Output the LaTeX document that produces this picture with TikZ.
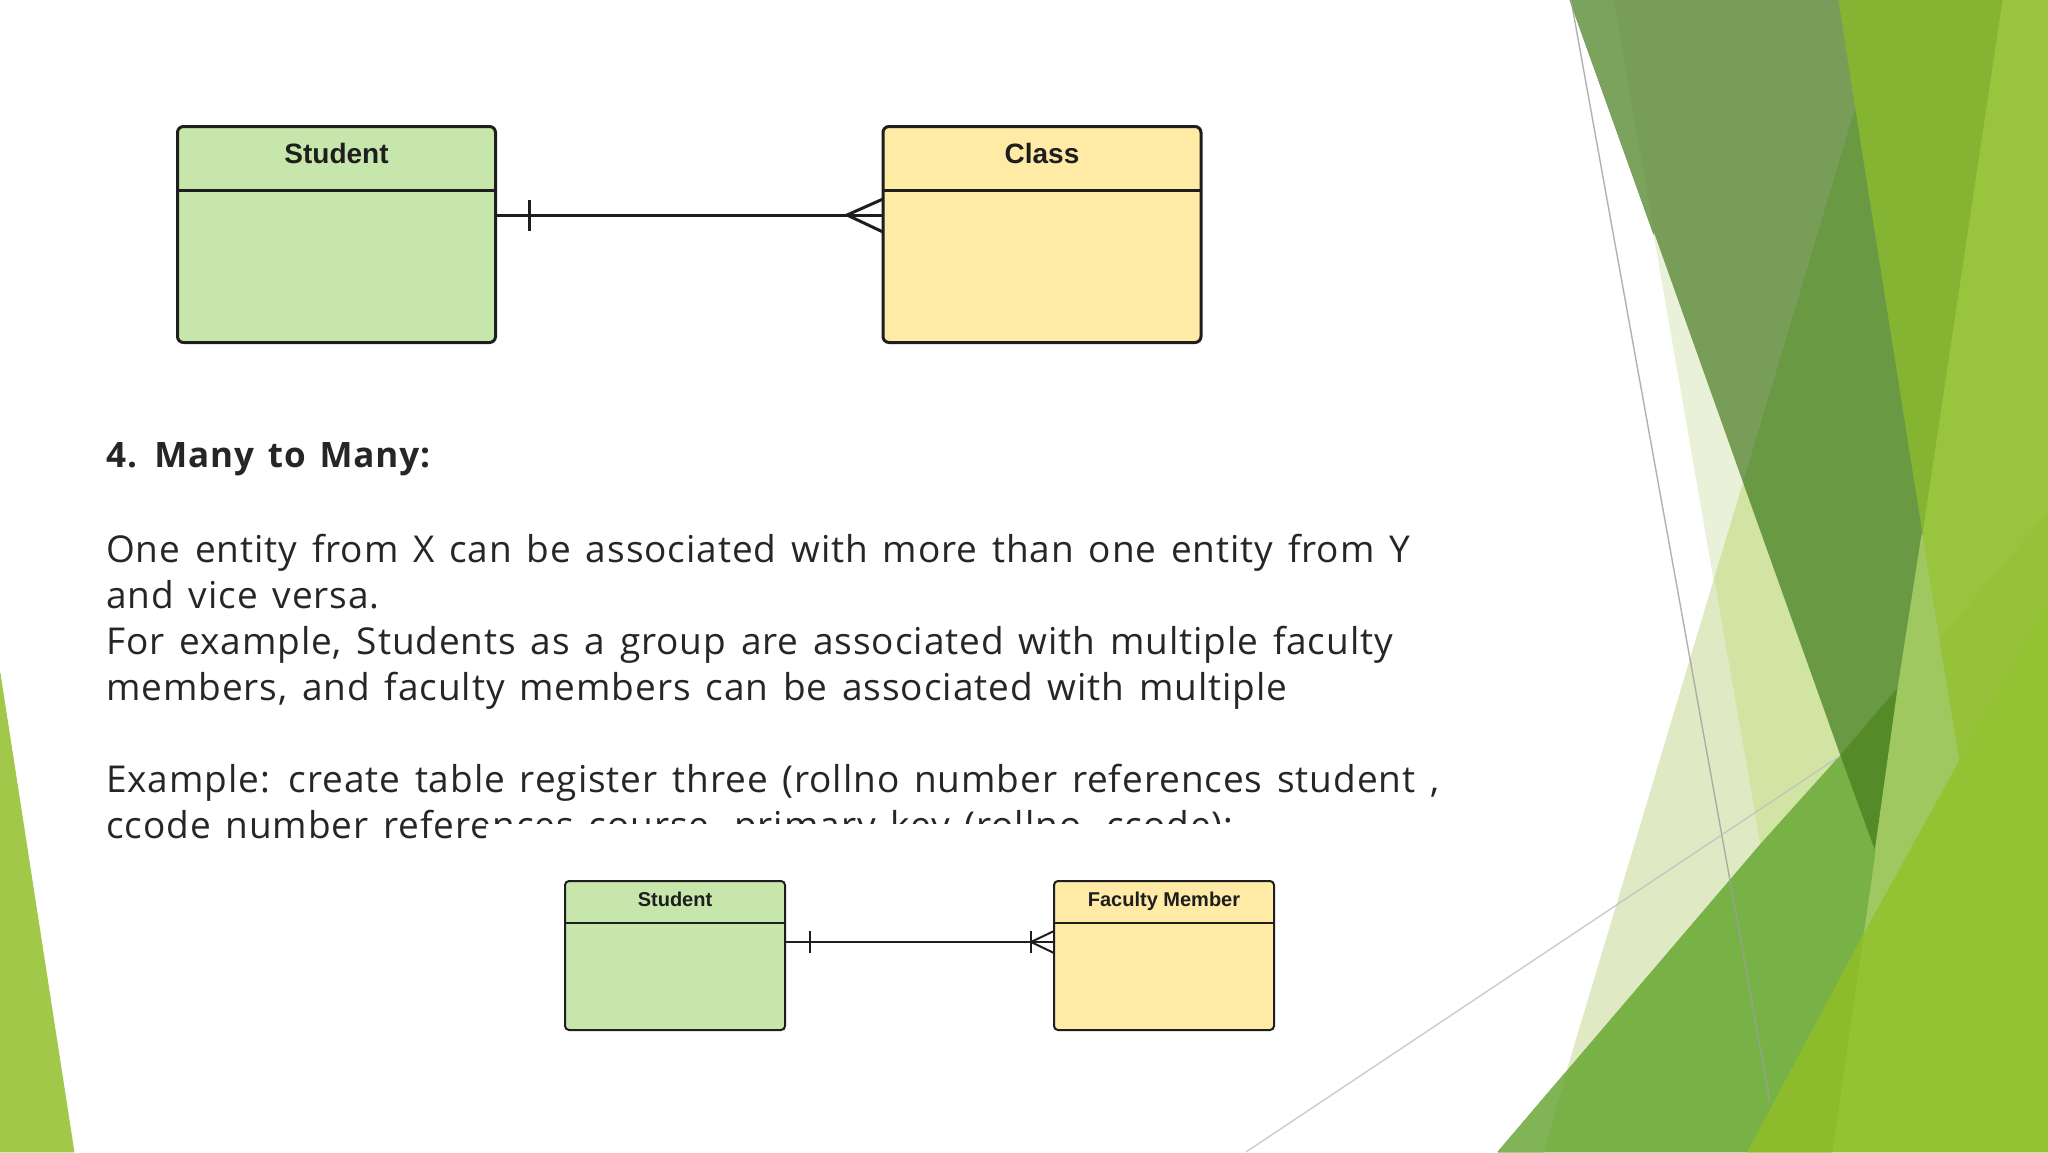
\documentclass[tikz,border=0pt]{standalone}
\usepackage{fontspec}
\setmainfont{Open Sans}[WordSpace=1.4,LetterSpace=2.5]
\newfontfamily\erfont{Liberation Sans}
\usetikzlibrary{calc}
\definecolor{txt}{HTML}{262626}
\definecolor{erline}{HTML}{1E1E1E}
\definecolor{entgreen}{HTML}{C6E6AC}
\definecolor{entyellow}{HTML}{FFEAA6}
\definecolor{cMuted}{HTML}{789D58}
\definecolor{cMutedL}{HTML}{7BA35D}
\definecolor{cDark}{HTML}{6A9944}
\definecolor{cVDark}{HTML}{548B28}
\definecolor{cBright}{HTML}{84B432}
\definecolor{cBand}{HTML}{98C43E}
\definecolor{cBandLow}{HTML}{95C238}
\definecolor{cWedge}{HTML}{A0C860}
\definecolor{cY}{HTML}{93C232}
\definecolor{cYL}{HTML}{8CBC2C}
\definecolor{cM}{HTML}{78B246}
\definecolor{cML}{HTML}{80B456}
\definecolor{cT}{HTML}{DFEAC5}
\definecolor{cTP}{HTML}{D2E4A3}
\definecolor{cP}{HTML}{E9F2D9}
\definecolor{cLeft}{HTML}{A2C84A}
\tikzset{
  facet/.style={fill=#1, draw=#1, line width=0.8pt, line join=round},
  ent/.style={draw=erline, line width=3pt, rounded corners=6pt, inner sep=0pt, outer sep=0pt},
  entsmall/.style={draw=erline, line width=2pt, rounded corners=4pt, inner sep=0pt, outer sep=0pt},
  conn/.style={draw=erline, line width=3pt},
  connsmall/.style={draw=erline, line width=2pt},
  bodytext/.style={font=\fontsize{37}{46}\selectfont, text=txt, inner sep=0pt, anchor=base west},
  headtext/.style={font=\bfseries\fontsize{35}{46}\selectfont, text=txt, inner sep=0pt, anchor=base west},
  ertitle/.style={font=\erfont\bfseries\fontsize{28}{32}\selectfont, text=erline, inner sep=0pt, anchor=base},
  ertitlesmall/.style={font=\erfont\bfseries\fontsize{20}{24}\selectfont, text=erline, inner sep=0pt, anchor=base},
  guide/.style={line width=1.4pt}
}
\begin{document}
\begin{tikzpicture}[x=1pt,y=-1pt]
\useasboundingbox (0,0) rectangle (2048,1152);
\fill[white] (0,0) rectangle (2048,1152);

% ---- background facets (right side) ----
\fill[facet=cBand] (2002,0) -- (2048,0) -- (2048,514) -- (1939,640) -- (1922,534) -- cycle;
\fill[facet=cBandLow] (1939,640) -- (2048,514) -- (2048,602) -- (1959,762) -- cycle;
\fill[facet=cBright] (1838,0) -- (2002,0) -- (1922,534) -- cycle;
\fill[facet=cMuted] (1570,0) -- (1838,0) -- (1855,110) -- (1743,484) -- cycle;
\fill[facet=cMutedL] (1570,0) -- (1613,0) -- (1654,234) -- cycle;
\fill[facet=cDark] (1855,110) -- (1922,534) -- (1898,688) -- (1840,756) -- (1743,484) -- cycle;
\fill[facet=cVDark] (1840,756) -- (1898,688) -- (1875,852) -- cycle;
\fill[facet=cWedge] (1922,534) -- (1939,640) -- (1959,762) -- (1863,936) -- (1875,852) -- (1898,688) -- cycle;
\fill[facet=cP] (1654,234) -- (1743,484) -- (1714,580) -- cycle;
\fill[facet=cTP] (1743,484) -- (1714,580) -- (1760,845) -- (1840,756) -- cycle;
\fill[facet=cT] (1714,580) -- (1567,1071) -- (1760,845) -- cycle;
\fill[facet=cM] (1498,1152) -- (1567,1071) -- (1760,845) -- (1840,756) -- (1875,852) -- (1863,936) -- (1748,1152) -- cycle;
\fill[facet=cML] (1498,1152) -- (1567,1071) -- (1543,1152) -- cycle;
\fill[facet=cY] (1748,1152) -- (1863,936) -- (1959,762) -- (2048,602) -- (2048,1152) -- cycle;
\fill[facet=cYL] (1748,1152) -- (1863,936) -- (1832,1152) -- cycle;
\draw[guide, draw=black!38, opacity=0.8] (1571,0) -- (1770,1102);
\draw[guide, draw=black!25, opacity=0.8] (1246,1152) -- (1840,756);
% left facet
\fill[facet=cLeft] (0,673) -- (74,1152) -- (0,1152) -- cycle;

% ---- top ER diagram ----
\node[ent, fill=entgreen, minimum width=318pt, minimum height=216pt, anchor=north west] (s1) at (177.5,126.5) {};
\node[ent, fill=entyellow, minimum width=318pt, minimum height=216pt, anchor=north west] (c1) at (883,126.5) {};
\draw[line width=3pt, draw=erline] (s1.west |- 0,190) -- (s1.east |- 0,190);
\draw[line width=3pt, draw=erline] (c1.west |- 0,190) -- (c1.east |- 0,190);
\node[ertitle] (s1t) at (s1.north |- 0,163) {Student};
\node[ertitle] (c1t) at (c1.north |- 0,163) {Class};
\coordinate (j1) at (s1.east |- 0,215);
\coordinate (j2) at (c1.west |- 0,215);
\draw[conn] (j1) -- (j2);
\draw[conn] ($(j1)+(34,-15)$) -- ($(j1)+(34,16)$);
\draw[conn, line join=miter] ($(j2)+(0,-16)$) -- ($(j2)+(-36,0)$) -- ($(j2)+(0,17)$);

% ---- text ----
\node[headtext] (h) at (106,467) {4. Many to Many:};
\node[bodytext] (l1) at (106,562) {One entity from X can be associated with more than one entity from Y};
\node[bodytext] (l2) at (106,608) {and vice versa.};
\node[bodytext] (l3) at (106,654) {For example, Students as a group are associated with multiple faculty};
\node[bodytext] (l4) at (106,700) {members, and faculty members can be associated with multiple};
\node[bodytext] (l5) at (106,792) {Example: create table register three (rollno number references student ,};
\node[bodytext] (l6) at (106,838) {ccode number references course, primary key (rollno, ccode);};

% white background of the lower diagram image
\fill[white] (486,824) rectangle (1292,1046);

% ---- lower ER diagram ----
\node[entsmall, fill=entgreen, minimum width=220pt, minimum height=149pt, anchor=north west] (s2) at (565,881) {};
\node[entsmall, fill=entyellow, minimum width=220pt, minimum height=149pt, anchor=north west] (f2) at (1054,881) {};
\draw[line width=2pt, draw=erline] (s2.west |- 0,923) -- (s2.east |- 0,923);
\draw[line width=2pt, draw=erline] (f2.west |- 0,923) -- (f2.east |- 0,923);
\node[ertitlesmall] (s2t) at (s2.north |- 0,906) {Student};
\node[ertitlesmall] (f2t) at (f2.north |- 0,906) {Faculty Member};
\coordinate (k1) at (s2.east |- 0,942);
\coordinate (k2) at (f2.west |- 0,942);
\draw[connsmall] (k1) -- (k2);
\draw[connsmall] ($(k1)+(25,-11)$) -- ($(k1)+(25,11)$);
\draw[connsmall] ($(k2)+(-23,-11)$) -- ($(k2)+(-23,11)$);
\draw[connsmall, line join=miter] ($(k2)+(0,-11)$) -- ($(k2)+(-23,0)$) -- ($(k2)+(0,11)$);
\end{tikzpicture}
\end{document}
